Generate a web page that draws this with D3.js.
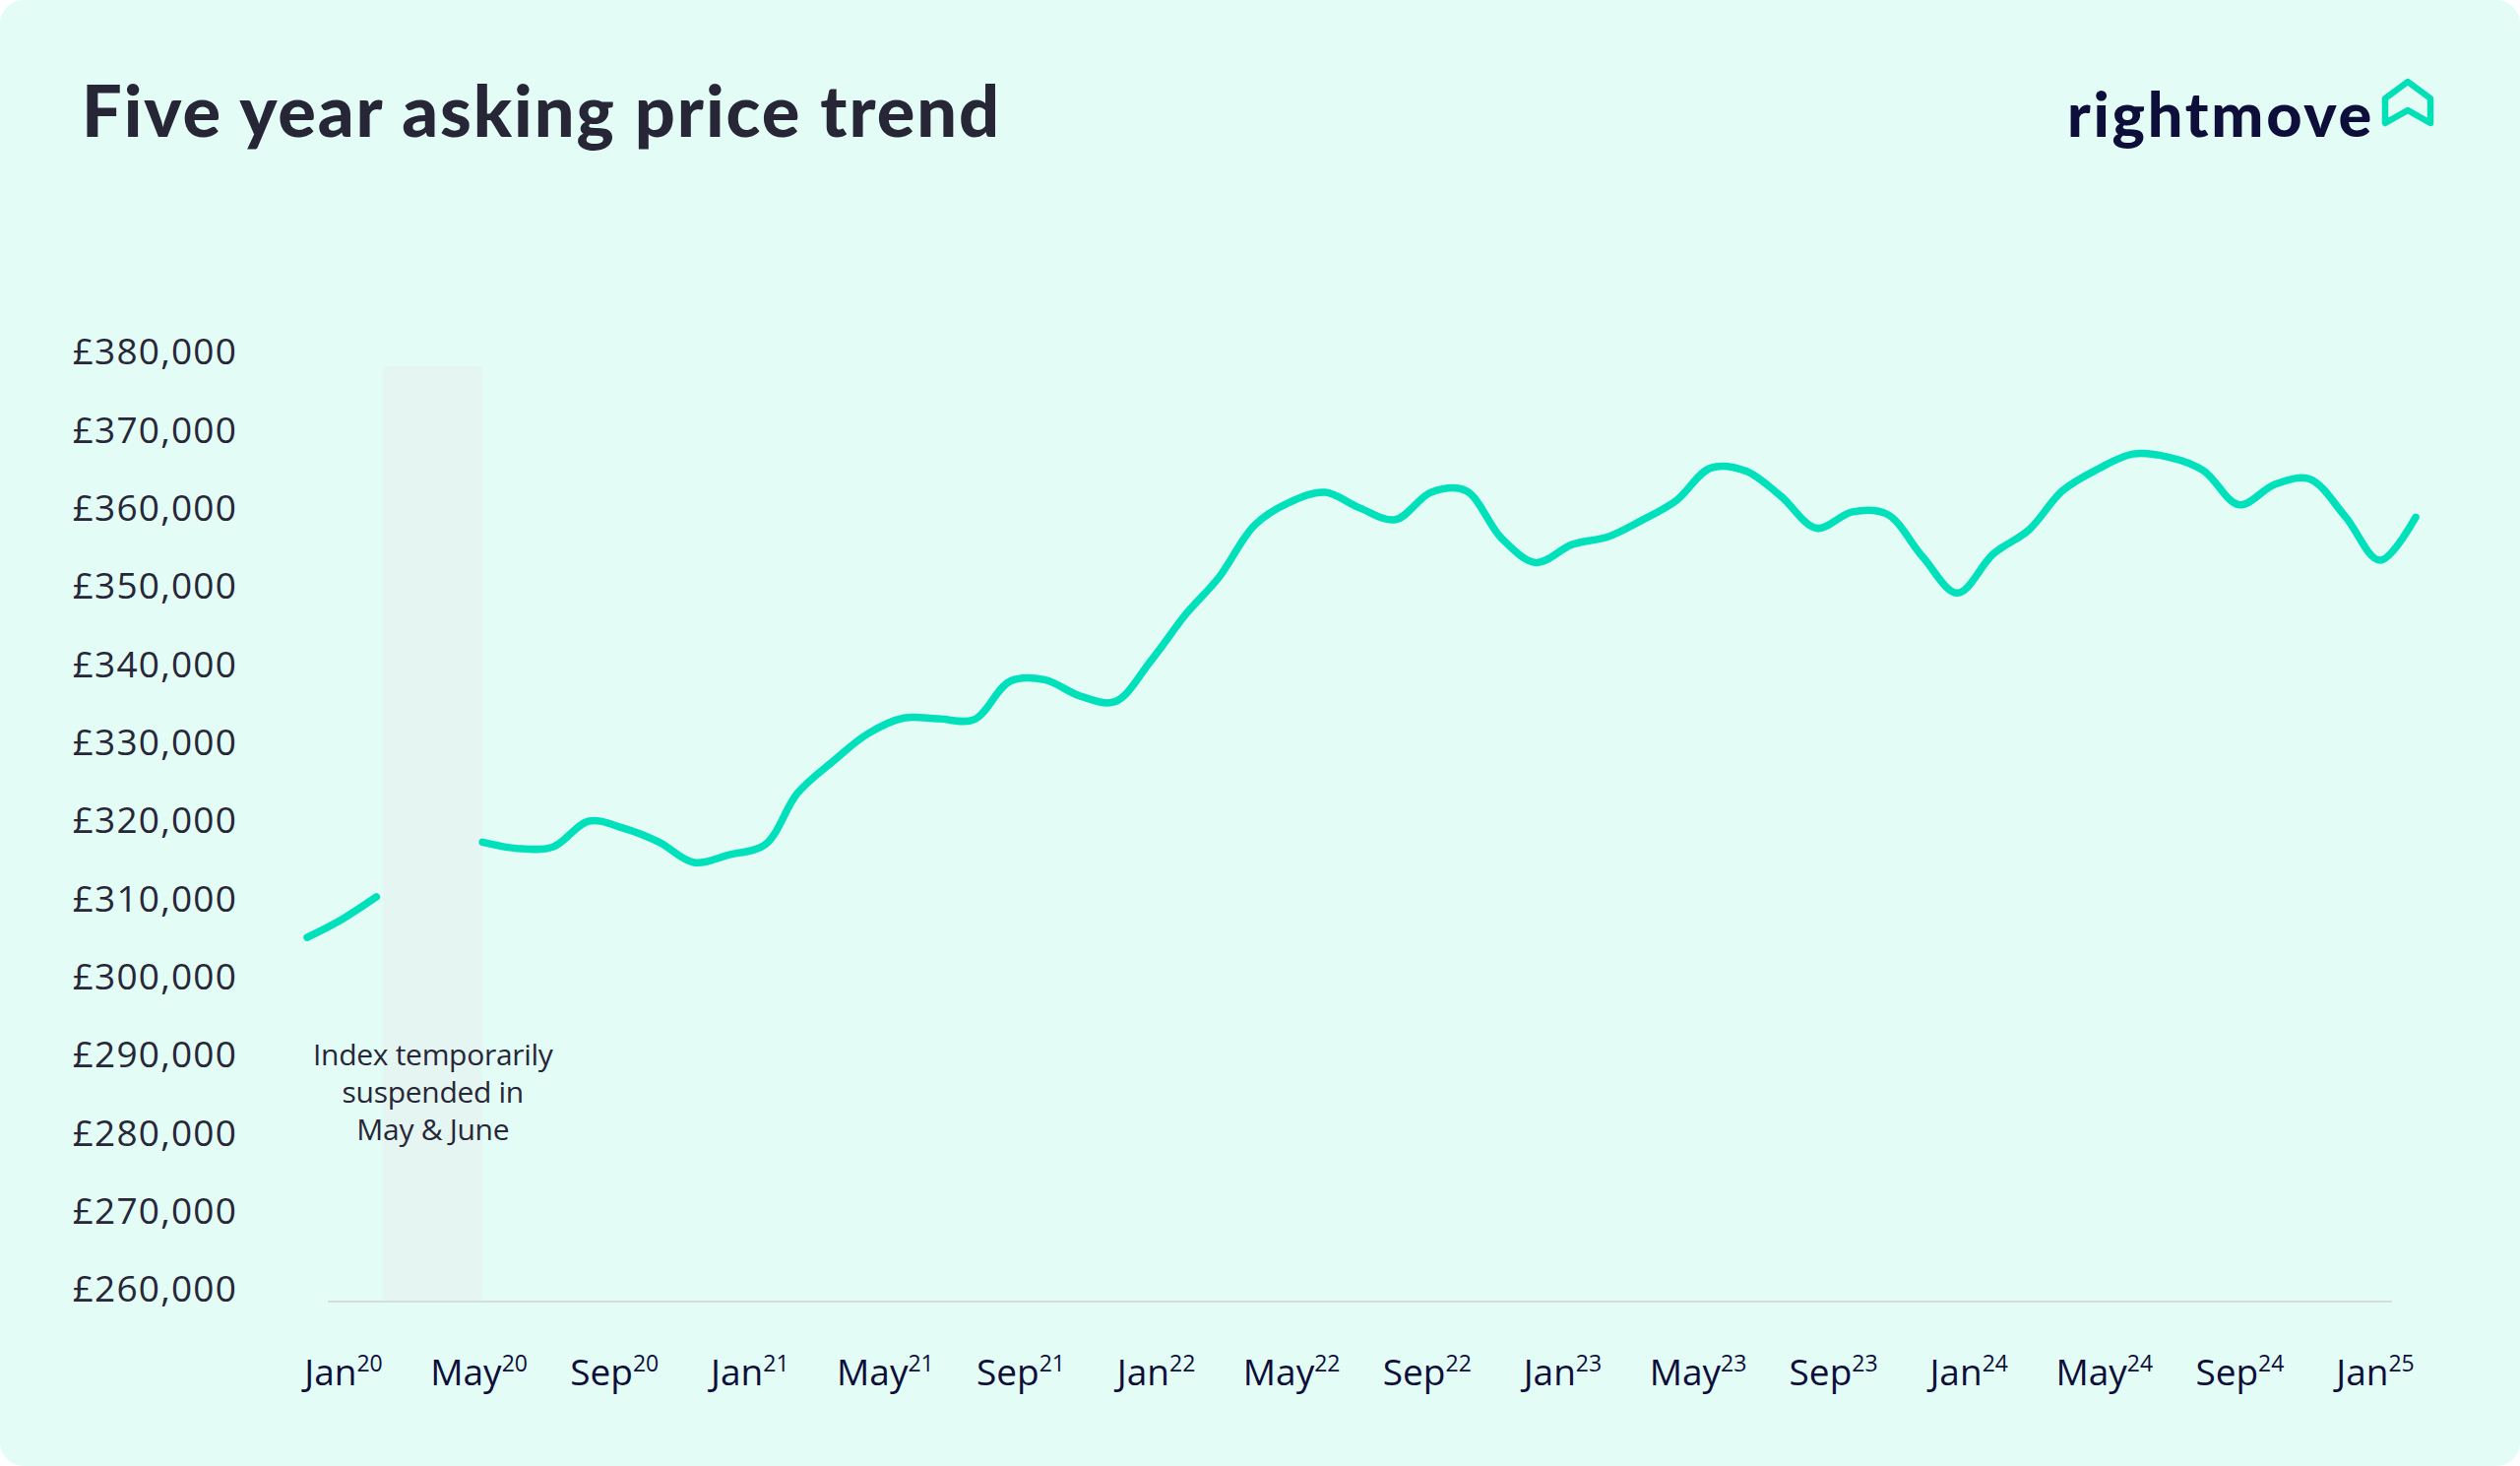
<!DOCTYPE html>
<html>
<head>
<meta charset="utf-8">
<script src="https://cdn.jsdelivr.net/npm/d3@7"></script>
<style>
  body { margin: 0; background: #ffffff; }
  text { font-family: "Open Sans", sans-serif; }
</style>
</head>
<body>
<div id="chart"></div>
<script>
// DATA (monthly average asking price, Jan 2020 - Jan 2025, gap = index suspended)
const months = d3.timeMonth.range(new Date(2020, 0, 1), new Date(2025, 1, 1));
const prices = [
  305100, 307500, 310300, null, null, 317300, 316500, 316700, 320000, 319100, 317300, 314700,
  315700, 317000, 323600, 327700, 331200, 333200, 333100, 333000, 337900, 338100, 336000, 335300,
  340500, 346600, 351200, 357900, 360800, 362100, 360100, 358600, 362100, 362300, 356200, 353100,
  355400, 356400, 358400, 361000, 365200, 364800, 361600, 357500, 359600, 359300, 353800, 349200,
  354200, 357300, 362300, 365100, 367000, 366600, 364900, 360500, 363100, 363800, 359000, 353400,
  358900
];
const yTicks = [260000, 270000, 280000, 290000, 300000, 310000, 320000, 330000, 340000, 350000, 360000, 370000, 380000];
const xTickMonths = ['Jan', 'May', 'Sep', 'Jan', 'May', 'Sep', 'Jan', 'May', 'Sep', 'Jan', 'May', 'Sep', 'Jan', 'May', 'Sep', 'Jan'];
const xTickYears = ['20', '20', '20', '21', '21', '21', '22', '22', '22', '23', '23', '23', '24', '24', '24', '25'];
const gapNote = ['Index temporarily', 'suspended in', 'May & June'];

// SIZE
const width = 2560,
  height = 1489,
  plotTop = 372,
  plotBottom = 1322;

const colorLine = '#00e0bb';
const colorText = '#272738';
const colorNavy = '#0e0e3a';

const svg = d3.select('#chart').append('svg')
  .attr('width', width)
  .attr('height', height);

// background card
svg.append('rect')
  .attr('width', width)
  .attr('height', height)
  .attr('rx', 24)
  .attr('fill', '#e4fcf6');

const data = months.map((d, i) => ({ date: d, value: prices[i] }));

// SCALES
const x = d3.scaleTime()
  .domain(d3.extent(months))
  .range([312, 2454]);

const y = d3.scaleLinear()
  .domain([260000, 380000])
  .range([plotBottom - 12, plotTop - 14]);

const xLabelPos = d3.scalePoint()
  .domain(d3.range(xTickMonths.length))
  .range([349, 2413]);

// gap band (May & June)
const gapStart = data[2].date, gapEnd = data[5].date;
svg.append('rect')
  .attr('x', x(gapStart) + 7)
  .attr('y', plotTop)
  .attr('width', x(gapEnd) - x(gapStart) - 7)
  .attr('height', plotBottom - plotTop)
  .attr('fill', '#e5f5f1');

// baseline
svg.append('line')
  .attr('x1', 333)
  .attr('x2', 2430)
  .attr('y1', plotBottom)
  .attr('y2', plotBottom)
  .attr('stroke', '#d6dddc')
  .attr('stroke-width', 2);

// Y AXIS
const yAxis = svg.append('g')
  .attr('transform', 'translate(241,0)')
  .call(d3.axisLeft(y)
    .tickValues(yTicks)
    .tickSize(0)
    .tickPadding(0)
    .tickFormat(d => '£' + d3.format(',')(d)));
yAxis.select('.domain').remove();
yAxis.selectAll('text')
  .attr('fill', colorText)
  .style('font-family', '"Open Sans", sans-serif')
  .style('font-size', '37px')
  .style('letter-spacing', '1.2px');

// X LABELS
const xLabels = svg.append('g')
  .selectAll('text')
  .data(xTickMonths)
  .enter().append('text')
  .attr('x', (d, i) => xLabelPos(i))
  .attr('y', 1407)
  .attr('text-anchor', 'middle')
  .attr('fill', colorNavy)
  .style('font-size', '37px');
xLabels.append('tspan').text(d => d);
xLabels.append('tspan')
  .attr('dy', -14)
  .style('font-size', '23px')
  .text((d, i) => xTickYears[i]);

// LINE
const line = d3.line()
  .defined(d => d.value != null)
  .x(d => x(d.date))
  .y(d => y(d.value))
  .curve(d3.curveCatmullRom.alpha(0.5));

svg.append('path')
  .datum(data)
  .attr('d', line)
  .attr('fill', 'none')
  .attr('stroke', colorLine)
  .attr('stroke-width', 7.5)
  .attr('stroke-linecap', 'round')
  .attr('stroke-linejoin', 'round');

// gap annotation
const noteX = (x(gapStart) + 7 + x(gapEnd)) / 2;
svg.append('g')
  .selectAll('text')
  .data(gapNote)
  .enter().append('text')
  .attr('x', noteX)
  .attr('y', (d, i) => 1082 + i * 38)
  .attr('text-anchor', 'middle')
  .attr('fill', colorText)
  .style('font-size', '30px')
  .style('letter-spacing', '-0.3px')
  .text(d => d);

// TITLE
const title = svg.append('text')
  .attr('x', 83)
  .attr('y', 139)
  .attr('fill', '#262637')
  .style('font-family', 'Lato, sans-serif')
  .style('font-weight', 900)
  .style('font-size', '72px')
  .text('Five year asking price trend');
fitWidth(title, 934);

// LOGO
const logo = svg.append('text')
  .attr('x', 2100)
  .attr('y', 139)
  .attr('fill', colorNavy)
  .style('font-family', 'Lato, sans-serif')
  .style('font-weight', 900)
  .style('font-size', '63px')
  .text('rightmove');
fitWidth(logo, 312);

svg.append('path')
  .attr('d', 'M2423,125 L2423,100 L2446,83 L2469,100 L2469,125 L2446,112 Z')
  .attr('fill', 'none')
  .attr('stroke', '#00dfb6')
  .attr('stroke-width', 6.5)
  .attr('stroke-linejoin', 'round');

//aux
function fitWidth(sel, target) {
  const len = sel.node().getComputedTextLength();
  const n = sel.text().length;
  sel.style('letter-spacing', ((target - len) / n) + 'px');
}
</script>
</body>
</html>
